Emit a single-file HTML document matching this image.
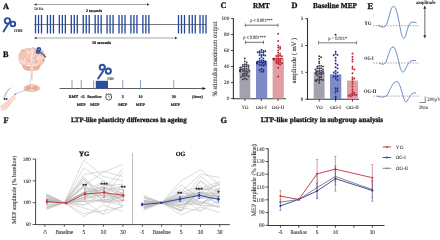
<!DOCTYPE html>
<html><head><meta charset="utf-8"><style>
html,body{margin:0;padding:0;background:#fff;width:440px;height:234px;overflow:hidden}
svg{display:block;will-change:transform}
text{font-family:'Liberation Serif',serif;text-rendering:geometricPrecision}
</style></head><body>
<svg width="440" height="234" viewBox="0 0 440 234">
<rect width="440" height="234" fill="#fff"/>
<text x="3" y="8.5" font-size="8.3" font-weight="bold" text-anchor="start" fill="#111" stroke="#111" stroke-width="0.28" >A</text>
<line x1="35" y1="4.5" x2="148" y2="4.5" stroke="#a5a5a5" stroke-width="1.15" />
<path d="M34,4.5 L36.5,3.3 L36.5,5.7 Z" fill="#333"/>
<path d="M149.5,4.5 L147,3.3 L147,5.7 Z" fill="#333"/>
<text x="34" y="9.8" font-size="3.8" font-weight="bold" text-anchor="start" fill="#333" stroke="#333" stroke-width="0.05" textLength="9.6" lengthAdjust="spacingAndGlyphs" >50 Hz</text>
<text x="86" y="11.8" font-size="3.9" font-weight="bold" text-anchor="start" fill="#222" stroke="#222" stroke-width="0.2" textLength="16" lengthAdjust="spacingAndGlyphs" >2 seconds</text>
<line x1="34" y1="24.5" x2="206.5" y2="24.5" stroke="#555" stroke-width="0.8" />
<rect x="34.85" y="15" width="1.3" height="18.5" fill="#22479c" />
<rect x="37.85" y="15" width="1.3" height="18.5" fill="#22479c" />
<rect x="40.85" y="15" width="1.3" height="18.5" fill="#22479c" />
<rect x="46.78" y="15" width="1.3" height="18.5" fill="#22479c" />
<rect x="49.78" y="15" width="1.3" height="18.5" fill="#22479c" />
<rect x="52.78" y="15" width="1.3" height="18.5" fill="#22479c" />
<rect x="58.71" y="15" width="1.3" height="18.5" fill="#22479c" />
<rect x="61.71" y="15" width="1.3" height="18.5" fill="#22479c" />
<rect x="64.71" y="15" width="1.3" height="18.5" fill="#22479c" />
<rect x="70.63999999999999" y="15" width="1.3" height="18.5" fill="#22479c" />
<rect x="73.63999999999999" y="15" width="1.3" height="18.5" fill="#22479c" />
<rect x="76.63999999999999" y="15" width="1.3" height="18.5" fill="#22479c" />
<rect x="82.57" y="15" width="1.3" height="18.5" fill="#22479c" />
<rect x="85.57" y="15" width="1.3" height="18.5" fill="#22479c" />
<rect x="88.57" y="15" width="1.3" height="18.5" fill="#22479c" />
<rect x="94.5" y="15" width="1.3" height="18.5" fill="#22479c" />
<rect x="97.5" y="15" width="1.3" height="18.5" fill="#22479c" />
<rect x="100.5" y="15" width="1.3" height="18.5" fill="#22479c" />
<rect x="106.42999999999999" y="15" width="1.3" height="18.5" fill="#22479c" />
<rect x="109.42999999999999" y="15" width="1.3" height="18.5" fill="#22479c" />
<rect x="112.42999999999999" y="15" width="1.3" height="18.5" fill="#22479c" />
<rect x="118.35999999999999" y="15" width="1.3" height="18.5" fill="#22479c" />
<rect x="121.35999999999999" y="15" width="1.3" height="18.5" fill="#22479c" />
<rect x="124.35999999999999" y="15" width="1.3" height="18.5" fill="#22479c" />
<rect x="130.29" y="15" width="1.3" height="18.5" fill="#22479c" />
<rect x="133.29" y="15" width="1.3" height="18.5" fill="#22479c" />
<rect x="136.29" y="15" width="1.3" height="18.5" fill="#22479c" />
<rect x="142.22" y="15" width="1.3" height="18.5" fill="#22479c" />
<rect x="145.22" y="15" width="1.3" height="18.5" fill="#22479c" />
<rect x="148.22" y="15" width="1.3" height="18.5" fill="#22479c" />
<rect x="177.85" y="15" width="1.3" height="18.5" fill="#22479c" />
<rect x="180.85" y="15" width="1.3" height="18.5" fill="#22479c" />
<rect x="183.85" y="15" width="1.3" height="18.5" fill="#22479c" />
<rect x="188.6" y="15" width="1.3" height="18.5" fill="#22479c" />
<rect x="191.6" y="15" width="1.3" height="18.5" fill="#22479c" />
<rect x="194.6" y="15" width="1.3" height="18.5" fill="#22479c" />
<rect x="199.35" y="15" width="1.3" height="18.5" fill="#22479c" />
<rect x="202.35" y="15" width="1.3" height="18.5" fill="#22479c" />
<rect x="205.35" y="15" width="1.3" height="18.5" fill="#22479c" />
<line x1="35" y1="38" x2="176" y2="38" stroke="#a5a5a5" stroke-width="1.15" />
<path d="M34,38 L36.5,36.8 L36.5,39.2 Z" fill="#333"/>
<path d="M177.5,38 L175,36.8 L175,39.2 Z" fill="#333"/>
<text x="92" y="44.3" font-size="4.1" font-weight="bold" text-anchor="start" fill="#222" stroke="#222" stroke-width="0.2" textLength="19" lengthAdjust="spacingAndGlyphs" >10 seconds</text>
<circle cx="7.5" cy="20.85" r="2.75" fill="none" stroke="#2b4f9c" stroke-width="1.9" />
<circle cx="12.9" cy="24.0" r="2.35" fill="none" stroke="#2b4f9c" stroke-width="1.9" />
<line x1="8.0" y1="24.2" x2="3.5" y2="31.4" stroke="#2b4f9c" stroke-width="1.9" stroke-linecap="round"/>
<text x="13.9" y="32.4" font-size="3.9" font-weight="bold" text-anchor="start" fill="#333" stroke="#333" stroke-width="0.1" textLength="8.6" lengthAdjust="spacingAndGlyphs" >iTBS</text>
<text x="3" y="57.4" font-size="8.3" font-weight="bold" text-anchor="start" fill="#111" stroke="#111" stroke-width="0.28" >B</text>
<path d="M18.3,57 C18.3,50.8 24,47.7 31.8,47.7 C39.6,47.7 45.4,50.8 45.4,57 C45.4,61.5 43.5,65 40,65.3 C37,65.6 34.8,64.6 31.8,64.7 C29,64.6 26.8,65.6 23.7,65.3 C20.2,65 18.3,61.5 18.3,57 Z" fill="#f3c7b6"/>
<circle cx="29.5" cy="51.7" r="0.76" fill="#f8dccf" stroke="none" stroke-width="0" />
<circle cx="38.0" cy="57.0" r="1.26" fill="#fbe4db" stroke="none" stroke-width="0" />
<circle cx="31.7" cy="55.2" r="1.15" fill="#f8dccf" stroke="none" stroke-width="0" />
<circle cx="39.5" cy="61.7" r="0.71" fill="#f8dccf" stroke="none" stroke-width="0" />
<circle cx="36.2" cy="62.1" r="0.66" fill="#eeb3a0" stroke="none" stroke-width="0" />
<circle cx="37.6" cy="59.3" r="0.93" fill="#fbe4db" stroke="none" stroke-width="0" />
<circle cx="29.5" cy="52.8" r="0.90" fill="#fbe4db" stroke="none" stroke-width="0" />
<circle cx="28.4" cy="63.4" r="0.92" fill="#fbe4db" stroke="none" stroke-width="0" />
<circle cx="42.4" cy="58.2" r="0.85" fill="#fbe4db" stroke="none" stroke-width="0" />
<circle cx="24.6" cy="63.2" r="1.12" fill="#f8dccf" stroke="none" stroke-width="0" />
<circle cx="30.5" cy="63.3" r="1.26" fill="#f8dccf" stroke="none" stroke-width="0" />
<circle cx="36.2" cy="49.1" r="0.72" fill="#fbe4db" stroke="none" stroke-width="0" />
<circle cx="36.8" cy="55.2" r="1.04" fill="#ecae9a" stroke="none" stroke-width="0" />
<circle cx="22.7" cy="58.4" r="0.83" fill="#ecae9a" stroke="none" stroke-width="0" />
<circle cx="32.6" cy="51.7" r="1.05" fill="#fbe4db" stroke="none" stroke-width="0" />
<circle cx="30.5" cy="57.2" r="0.85" fill="#f8dccf" stroke="none" stroke-width="0" />
<circle cx="37.1" cy="63.3" r="1.12" fill="#f8dccf" stroke="none" stroke-width="0" />
<circle cx="37.7" cy="61.0" r="1.03" fill="#f8dccf" stroke="none" stroke-width="0" />
<circle cx="29.6" cy="50.0" r="0.81" fill="#f8dccf" stroke="none" stroke-width="0" />
<circle cx="44.8" cy="55.1" r="1.22" fill="#f8dccf" stroke="none" stroke-width="0" />
<circle cx="27.3" cy="56.5" r="1.19" fill="#f8dccf" stroke="none" stroke-width="0" />
<circle cx="22.0" cy="61.7" r="1.07" fill="#f8dccf" stroke="none" stroke-width="0" />
<circle cx="32.0" cy="48.7" r="0.84" fill="#fbe4db" stroke="none" stroke-width="0" />
<circle cx="28.8" cy="53.9" r="0.87" fill="#ecae9a" stroke="none" stroke-width="0" />
<circle cx="40.2" cy="57.0" r="1.22" fill="#f8dccf" stroke="none" stroke-width="0" />
<circle cx="43.0" cy="60.0" r="1.14" fill="#ecae9a" stroke="none" stroke-width="0" />
<circle cx="25.0" cy="62.2" r="1.06" fill="#f8dccf" stroke="none" stroke-width="0" />
<circle cx="27.1" cy="62.5" r="0.75" fill="#eeb3a0" stroke="none" stroke-width="0" />
<circle cx="40.0" cy="59.3" r="0.87" fill="#f8dccf" stroke="none" stroke-width="0" />
<circle cx="30.4" cy="63.8" r="0.89" fill="#ecae9a" stroke="none" stroke-width="0" />
<circle cx="26.6" cy="59.5" r="1.15" fill="#eeb3a0" stroke="none" stroke-width="0" />
<circle cx="32.9" cy="63.4" r="0.90" fill="#eeb3a0" stroke="none" stroke-width="0" />
<circle cx="26.6" cy="64.0" r="0.80" fill="#f8dccf" stroke="none" stroke-width="0" />
<circle cx="36.6" cy="58.2" r="0.74" fill="#ecae9a" stroke="none" stroke-width="0" />
<circle cx="27.8" cy="51.7" r="1.07" fill="#fbe4db" stroke="none" stroke-width="0" />
<circle cx="37.1" cy="63.9" r="1.22" fill="#f8dccf" stroke="none" stroke-width="0" />
<circle cx="36.4" cy="61.1" r="1.06" fill="#eeb3a0" stroke="none" stroke-width="0" />
<circle cx="38.3" cy="62.4" r="0.89" fill="#f8dccf" stroke="none" stroke-width="0" />
<circle cx="41.4" cy="59.0" r="0.68" fill="#fbe4db" stroke="none" stroke-width="0" />
<circle cx="32.8" cy="48.5" r="1.26" fill="#eeb3a0" stroke="none" stroke-width="0" />
<circle cx="32.3" cy="61.4" r="0.78" fill="#f8dccf" stroke="none" stroke-width="0" />
<circle cx="41.1" cy="55.2" r="0.74" fill="#eeb3a0" stroke="none" stroke-width="0" />
<circle cx="27.0" cy="57.8" r="0.89" fill="#fbe4db" stroke="none" stroke-width="0" />
<circle cx="28.6" cy="57.4" r="0.74" fill="#eeb3a0" stroke="none" stroke-width="0" />
<circle cx="29.3" cy="61.1" r="0.92" fill="#eeb3a0" stroke="none" stroke-width="0" />
<circle cx="22.3" cy="50.6" r="1.21" fill="#ecae9a" stroke="none" stroke-width="0" />
<circle cx="37.1" cy="54.7" r="0.85" fill="#f8dccf" stroke="none" stroke-width="0" />
<circle cx="24.4" cy="55.9" r="0.73" fill="#ecae9a" stroke="none" stroke-width="0" />
<circle cx="33.9" cy="58.5" r="1.07" fill="#ecae9a" stroke="none" stroke-width="0" />
<circle cx="44.5" cy="57.0" r="0.97" fill="#ecae9a" stroke="none" stroke-width="0" />
<circle cx="22.0" cy="61.2" r="0.84" fill="#fbe4db" stroke="none" stroke-width="0" />
<circle cx="38.1" cy="57.6" r="1.04" fill="#eeb3a0" stroke="none" stroke-width="0" />
<circle cx="34.2" cy="55.1" r="0.70" fill="#f8dccf" stroke="none" stroke-width="0" />
<circle cx="42.9" cy="54.9" r="0.84" fill="#fbe4db" stroke="none" stroke-width="0" />
<circle cx="25.0" cy="60.6" r="1.19" fill="#f8dccf" stroke="none" stroke-width="0" />
<circle cx="20.5" cy="60.9" r="1.16" fill="#f8dccf" stroke="none" stroke-width="0" />
<circle cx="22.0" cy="51.2" r="1.06" fill="#eeb3a0" stroke="none" stroke-width="0" />
<circle cx="39.2" cy="51.3" r="1.06" fill="#eeb3a0" stroke="none" stroke-width="0" />
<circle cx="40.2" cy="49.8" r="1.11" fill="#fbe4db" stroke="none" stroke-width="0" />
<circle cx="40.5" cy="50.9" r="0.62" fill="#fbe4db" stroke="none" stroke-width="0" />
<circle cx="32.3" cy="54.6" r="1.21" fill="#eeb3a0" stroke="none" stroke-width="0" />
<circle cx="37.6" cy="58.3" r="0.84" fill="#f8dccf" stroke="none" stroke-width="0" />
<circle cx="20.4" cy="54.0" r="0.73" fill="#ecae9a" stroke="none" stroke-width="0" />
<circle cx="23.7" cy="50.3" r="1.05" fill="#ecae9a" stroke="none" stroke-width="0" />
<circle cx="32.6" cy="63.4" r="0.86" fill="#f8dccf" stroke="none" stroke-width="0" />
<circle cx="36.7" cy="50.1" r="1.00" fill="#f8dccf" stroke="none" stroke-width="0" />
<circle cx="38.1" cy="58.1" r="1.21" fill="#fbe4db" stroke="none" stroke-width="0" />
<circle cx="23.2" cy="62.7" r="1.14" fill="#f8dccf" stroke="none" stroke-width="0" />
<circle cx="28.7" cy="53.5" r="1.01" fill="#fbe4db" stroke="none" stroke-width="0" />
<circle cx="26.4" cy="57.4" r="0.69" fill="#eeb3a0" stroke="none" stroke-width="0" />
<circle cx="30.1" cy="49.7" r="0.71" fill="#eeb3a0" stroke="none" stroke-width="0" />
<circle cx="36.8" cy="62.0" r="1.16" fill="#eeb3a0" stroke="none" stroke-width="0" />
<circle cx="44.2" cy="54.5" r="1.03" fill="#eeb3a0" stroke="none" stroke-width="0" />
<circle cx="33.2" cy="59.6" r="1.13" fill="#fbe4db" stroke="none" stroke-width="0" />
<circle cx="43.4" cy="60.3" r="0.96" fill="#ecae9a" stroke="none" stroke-width="0" />
<circle cx="42.4" cy="52.1" r="1.29" fill="#ecae9a" stroke="none" stroke-width="0" />
<circle cx="24.5" cy="58.9" r="1.19" fill="#f8dccf" stroke="none" stroke-width="0" />
<circle cx="35.4" cy="49.5" r="0.73" fill="#eeb3a0" stroke="none" stroke-width="0" />
<path d="M31.5,48.5 L33.3,48.5 L32.6,64 L30.8,64 Z" fill="#fbe8e0" opacity="0.85"/>
<path d="M22,64 C22,69.8 26.3,71.3 31.6,70.9 C36.9,71.3 40.8,69.8 40.8,64 C37.8,65.8 34.5,66.2 31.6,65.8 C28.3,66.2 25,65.8 22,64 Z" fill="#ebb2a1"/>
<path d="M29.9,63 L33.7,63 L32.7,80 L31.5,80 Z" fill="#f6d8ca"/>
<line x1="33.7" y1="55.6" x2="30.6" y2="68.2" stroke="#c5d4ec" stroke-width="0.9" />
<ellipse cx="31.5" cy="71.5" rx="0.5" ry="1.0" fill="#c2d2ea"/>
<ellipse cx="31.8" cy="75" rx="0.5" ry="1.0" fill="#c2d2ea"/>
<line x1="31.8" y1="74" x2="29.6" y2="86" stroke="#a9bee2" stroke-width="0.6" />
<ellipse cx="31.8" cy="88.2" rx="8.2" ry="3.9" fill="#efb9a2"/>
<ellipse cx="31.8" cy="88.2" rx="6.9" ry="3.0" fill="#f6d3c3"/>
<ellipse cx="28.5" cy="88.2" rx="2.8" ry="2.1" fill="#eba990"/>
<ellipse cx="35.1" cy="88.2" rx="2.8" ry="2.1" fill="#eba990"/>
<circle cx="29.8" cy="88.3" r="0.7" fill="#9fb4d8" stroke="none" stroke-width="0" />
<path d="M26.5,90 Q20,91.5 14.5,94.5" stroke="#86a2d4" stroke-width="0.6" fill="none"/>
<path d="M14,95 L15,93.2 L16.4,94.9 Z" fill="#5f86c8"/>
<path d="M14.5,95 L8,101 C6,103 3,104 0.5,106.5 L1,109 L3,110.5 L5.5,110 C8,106 10.5,104 12,102 L16,97.5 Z" fill="#fae3da"/>
<path d="M14.5,95 L8,101 L0.5,106.5" stroke="#efb49e" stroke-width="0.6" fill="none" stroke-linecap="round"/>
<path d="M16,97.5 L12,102 L5.5,110" stroke="#efb49e" stroke-width="0.6" fill="none" stroke-linecap="round"/>
<path d="M9.5,101.5 L1,109" stroke="#efb49e" stroke-width="0.6" fill="none" stroke-linecap="round"/>
<path d="M10.5,102.5 L3,110.5" stroke="#efb49e" stroke-width="0.6" fill="none" stroke-linecap="round"/>
<path d="M12.5,96.5 L6,103" stroke="#efb49e" stroke-width="0.6" fill="none" stroke-linecap="round"/>
<path d="M11,87.5 Q6,91 4.3,98.5" stroke="#555" stroke-width="0.45" fill="none"/>
<path d="M9,88.5 Q5,92 3,99" stroke="#f0a890" stroke-width="0.4" fill="none"/>
<circle cx="4.6" cy="99" r="0.95" fill="#27336f" stroke="none" stroke-width="0" />
<circle cx="6.6" cy="99" r="0.95" fill="#27336f" stroke="none" stroke-width="0" />
<circle cx="38.9" cy="49.4" r="1.55" fill="none" stroke="#2b4f9c" stroke-width="1.6" />
<circle cx="38.0" cy="51.8" r="1.45" fill="none" stroke="#2b4f9c" stroke-width="1.6" />
<line x1="40.5" y1="52.5" x2="45.6" y2="56.9" stroke="#2b4f9c" stroke-width="1.1" stroke-linecap="round"/>
<line x1="59.5" y1="88.5" x2="204" y2="88.5" stroke="#333" stroke-width="0.8" />
<path d="M206,88.5 L202.5,87 L202.5,90 Z" fill="#222"/>
<rect x="71.55" y="80.2" width="0.9" height="8.3" fill="#7b96c8" />
<rect x="80.75" y="80.2" width="0.9" height="8.3" fill="#7b96c8" />
<rect x="93.25" y="80.2" width="0.9" height="8.3" fill="#7b96c8" />
<rect x="122.35" y="80.2" width="0.9" height="8.3" fill="#7b96c8" />
<rect x="140.05" y="80.2" width="0.9" height="8.3" fill="#7b96c8" />
<rect x="173.35000000000002" y="80.2" width="0.9" height="8.3" fill="#7b96c8" />
<rect x="95.8" y="80.8" width="12.2" height="7.7" fill="#2b4f9c" />
<circle cx="102.25" cy="67.2" r="2.55" fill="none" stroke="#2b4f9c" stroke-width="2.0" />
<circle cx="108.3" cy="71.1" r="2.6" fill="none" stroke="#2b4f9c" stroke-width="2.0" />
<line x1="103.0" y1="71.2" x2="98.2" y2="78.5" stroke="#2b4f9c" stroke-width="2.0" stroke-linecap="round"/>
<text x="107.2" y="79.6" font-size="3.9" font-weight="bold" text-anchor="start" fill="#444" stroke="#444" stroke-width="0.08" textLength="6.6" lengthAdjust="spacingAndGlyphs" >iTBS</text>
<text x="68.8" y="98.3" font-size="4.1" font-weight="bold" text-anchor="start" fill="#222" stroke="#222" stroke-width="0.2" textLength="9.4" lengthAdjust="spacingAndGlyphs" >RMT</text>
<text x="80.6" y="98.3" font-size="4.1" font-weight="bold" text-anchor="start" fill="#222" stroke="#222" stroke-width="0.2" textLength="4" lengthAdjust="spacingAndGlyphs" >-5</text>
<text x="87.2" y="98.3" font-size="4.1" font-weight="bold" text-anchor="start" fill="#333" stroke="#333" stroke-width="0.2" textLength="14.3" lengthAdjust="spacingAndGlyphs" >Baseline</text>
<circle cx="108.7" cy="97" r="3.0" fill="none" stroke="#222" stroke-width="0.75" />
<path d="M108.7,95.2 L108.7,97 L110,97.5" stroke="#333" stroke-width="0.5" fill="none"/>
<path d="M105.8,94.2 L107,93.4 M111.6,94.2 L110.4,93.4" stroke="#333" stroke-width="0.6"/>
<text x="122.8" y="98.3" font-size="4.1" font-weight="bold" text-anchor="middle" fill="#333" stroke="#333" stroke-width="0.2" >5</text>
<text x="140.5" y="98.3" font-size="4.1" font-weight="bold" text-anchor="middle" fill="#333" stroke="#333" stroke-width="0.2" >10</text>
<text x="173.8" y="98.3" font-size="4.1" font-weight="bold" text-anchor="middle" fill="#333" stroke="#333" stroke-width="0.2" >30</text>
<text x="192" y="98.3" font-size="4.1" font-weight="bold" text-anchor="start" fill="#333" stroke="#333" stroke-width="0.2" textLength="10.8" lengthAdjust="spacingAndGlyphs" >(time)</text>
<text x="81.3" y="105.6" font-size="4.1" font-weight="bold" text-anchor="middle" fill="#333" stroke="#333" stroke-width="0.2" textLength="9.3" lengthAdjust="spacingAndGlyphs" >MEP</text>
<text x="95" y="105.6" font-size="4.1" font-weight="bold" text-anchor="middle" fill="#333" stroke="#333" stroke-width="0.2" textLength="9.3" lengthAdjust="spacingAndGlyphs" >MEP</text>
<text x="122.8" y="105.6" font-size="4.1" font-weight="bold" text-anchor="middle" fill="#333" stroke="#333" stroke-width="0.2" textLength="9.3" lengthAdjust="spacingAndGlyphs" >MEP</text>
<text x="140.5" y="105.6" font-size="4.1" font-weight="bold" text-anchor="middle" fill="#333" stroke="#333" stroke-width="0.2" textLength="9.3" lengthAdjust="spacingAndGlyphs" >MEP</text>
<text x="175.4" y="105.6" font-size="4.1" font-weight="bold" text-anchor="middle" fill="#333" stroke="#333" stroke-width="0.2" textLength="9.3" lengthAdjust="spacingAndGlyphs" >MEP</text>
<text x="220.6" y="8.3" font-size="8.3" font-weight="bold" text-anchor="start" fill="#111" stroke="#111" stroke-width="0.28" >C</text>
<text x="253" y="8.3" font-size="7.6" font-weight="bold" text-anchor="start" fill="#111" stroke="#111" stroke-width="0.28" textLength="16.8" lengthAdjust="spacingAndGlyphs" >RMT</text>
<line x1="233.4" y1="18.2" x2="233.4" y2="99.2" stroke="#333" stroke-width="1.1" />
<line x1="233.4" y1="98.7" x2="286" y2="98.7" stroke="#333" stroke-width="1.1" />
<line x1="231" y1="98.5" x2="233.4" y2="98.5" stroke="#222" stroke-width="0.8" />
<text x="229.3" y="100.3" font-size="5.2" font-weight="normal" text-anchor="end" fill="#333" stroke="#333" stroke-width="0.12" >0</text>
<line x1="231" y1="82.5" x2="233.4" y2="82.5" stroke="#222" stroke-width="0.8" />
<text x="229.3" y="84.3" font-size="5.2" font-weight="normal" text-anchor="end" fill="#333" stroke="#333" stroke-width="0.12" >20</text>
<line x1="231" y1="66.5" x2="233.4" y2="66.5" stroke="#222" stroke-width="0.8" />
<text x="229.3" y="68.3" font-size="5.2" font-weight="normal" text-anchor="end" fill="#333" stroke="#333" stroke-width="0.12" >40</text>
<line x1="231" y1="50.5" x2="233.4" y2="50.5" stroke="#222" stroke-width="0.8" />
<text x="229.3" y="52.3" font-size="5.2" font-weight="normal" text-anchor="end" fill="#333" stroke="#333" stroke-width="0.12" >60</text>
<line x1="231" y1="34.5" x2="233.4" y2="34.5" stroke="#222" stroke-width="0.8" />
<text x="229.3" y="36.3" font-size="5.2" font-weight="normal" text-anchor="end" fill="#333" stroke="#333" stroke-width="0.12" >80</text>
<line x1="231" y1="18.5" x2="233.4" y2="18.5" stroke="#222" stroke-width="0.8" />
<text x="229.3" y="20.3" font-size="5.2" font-weight="normal" text-anchor="end" fill="#333" stroke="#333" stroke-width="0.12" >100</text>
<text x="0" y="0" font-size="6.9" font-weight="normal" text-anchor="middle" fill="#333" stroke="#333" stroke-width="0.12" textLength="75" lengthAdjust="spacingAndGlyphs" transform="translate(217,59) rotate(-90)">% stimulus maximum output</text>
<rect x="239.5" y="70.5" width="10.8" height="28" fill="#a2a1b0" />
<rect x="256" y="61" width="11.2" height="37.5" fill="#7f8ac6" />
<rect x="272.6" y="58.6" width="11.2" height="39.9" fill="#df9fa4" />
<circle cx="244.80" cy="58.50" r="0.95" fill="#3a3a4a" stroke="none" stroke-width="0" />
<circle cx="244.80" cy="61.34" r="0.95" fill="#3a3a4a" stroke="none" stroke-width="0" />
<circle cx="246.70" cy="62.50" r="0.95" fill="#3a3a4a" stroke="none" stroke-width="0" />
<circle cx="244.80" cy="64.20" r="0.95" fill="#3a3a4a" stroke="none" stroke-width="0" />
<circle cx="246.70" cy="64.74" r="0.95" fill="#3a3a4a" stroke="none" stroke-width="0" />
<circle cx="242.90" cy="64.85" r="0.95" fill="#3a3a4a" stroke="none" stroke-width="0" />
<circle cx="248.60" cy="65.33" r="0.95" fill="#3a3a4a" stroke="none" stroke-width="0" />
<circle cx="244.80" cy="66.19" r="0.95" fill="#3a3a4a" stroke="none" stroke-width="0" />
<circle cx="246.70" cy="66.40" r="0.95" fill="#3a3a4a" stroke="none" stroke-width="0" />
<circle cx="242.90" cy="66.49" r="0.95" fill="#3a3a4a" stroke="none" stroke-width="0" />
<circle cx="248.60" cy="67.11" r="0.95" fill="#3a3a4a" stroke="none" stroke-width="0" />
<circle cx="241.00" cy="67.38" r="0.95" fill="#3a3a4a" stroke="none" stroke-width="0" />
<circle cx="240.20" cy="67.68" r="0.95" fill="#3a3a4a" stroke="none" stroke-width="0" />
<circle cx="244.80" cy="68.26" r="0.95" fill="#3a3a4a" stroke="none" stroke-width="0" />
<circle cx="246.70" cy="68.65" r="0.95" fill="#3a3a4a" stroke="none" stroke-width="0" />
<circle cx="242.90" cy="69.01" r="0.95" fill="#3a3a4a" stroke="none" stroke-width="0" />
<circle cx="248.60" cy="69.28" r="0.95" fill="#3a3a4a" stroke="none" stroke-width="0" />
<circle cx="241.00" cy="69.40" r="0.95" fill="#3a3a4a" stroke="none" stroke-width="0" />
<circle cx="240.20" cy="69.84" r="0.95" fill="#3a3a4a" stroke="none" stroke-width="0" />
<circle cx="244.80" cy="69.89" r="0.95" fill="#3a3a4a" stroke="none" stroke-width="0" />
<circle cx="240.20" cy="70.05" r="0.95" fill="#3a3a4a" stroke="none" stroke-width="0" />
<circle cx="246.70" cy="70.46" r="0.95" fill="#3a3a4a" stroke="none" stroke-width="0" />
<circle cx="242.90" cy="70.75" r="0.95" fill="#3a3a4a" stroke="none" stroke-width="0" />
<circle cx="249.40" cy="70.84" r="0.95" fill="#3a3a4a" stroke="none" stroke-width="0" />
<circle cx="240.20" cy="70.85" r="0.95" fill="#3a3a4a" stroke="none" stroke-width="0" />
<circle cx="240.20" cy="71.07" r="0.95" fill="#3a3a4a" stroke="none" stroke-width="0" />
<circle cx="240.20" cy="71.11" r="0.95" fill="#3a3a4a" stroke="none" stroke-width="0" />
<circle cx="240.20" cy="71.31" r="0.95" fill="#3a3a4a" stroke="none" stroke-width="0" />
<circle cx="240.20" cy="71.46" r="0.95" fill="#3a3a4a" stroke="none" stroke-width="0" />
<circle cx="244.80" cy="71.63" r="0.95" fill="#3a3a4a" stroke="none" stroke-width="0" />
<circle cx="247.70" cy="71.92" r="0.95" fill="#3a3a4a" stroke="none" stroke-width="0" />
<circle cx="244.80" cy="73.42" r="0.95" fill="#3a3a4a" stroke="none" stroke-width="0" />
<circle cx="246.70" cy="73.80" r="0.95" fill="#3a3a4a" stroke="none" stroke-width="0" />
<circle cx="242.90" cy="73.98" r="0.95" fill="#3a3a4a" stroke="none" stroke-width="0" />
<circle cx="244.80" cy="75.56" r="0.95" fill="#3a3a4a" stroke="none" stroke-width="0" />
<circle cx="246.70" cy="75.58" r="0.95" fill="#3a3a4a" stroke="none" stroke-width="0" />
<circle cx="242.90" cy="75.95" r="0.95" fill="#3a3a4a" stroke="none" stroke-width="0" />
<circle cx="248.60" cy="76.34" r="0.95" fill="#3a3a4a" stroke="none" stroke-width="0" />
<circle cx="241.00" cy="76.86" r="0.95" fill="#3a3a4a" stroke="none" stroke-width="0" />
<circle cx="244.80" cy="78.57" r="0.95" fill="#3a3a4a" stroke="none" stroke-width="0" />
<circle cx="246.70" cy="79.37" r="0.95" fill="#3a3a4a" stroke="none" stroke-width="0" />
<circle cx="242.90" cy="79.39" r="0.95" fill="#3a3a4a" stroke="none" stroke-width="0" />
<circle cx="261.50" cy="49.70" r="0.95" fill="#1b2a8a" stroke="none" stroke-width="0" />
<circle cx="263.40" cy="50.97" r="0.95" fill="#1b2a8a" stroke="none" stroke-width="0" />
<circle cx="259.60" cy="51.27" r="0.95" fill="#1b2a8a" stroke="none" stroke-width="0" />
<circle cx="265.30" cy="51.30" r="0.95" fill="#1b2a8a" stroke="none" stroke-width="0" />
<circle cx="261.50" cy="52.15" r="0.95" fill="#1b2a8a" stroke="none" stroke-width="0" />
<circle cx="257.70" cy="52.20" r="0.95" fill="#1b2a8a" stroke="none" stroke-width="0" />
<circle cx="263.40" cy="52.78" r="0.95" fill="#1b2a8a" stroke="none" stroke-width="0" />
<circle cx="259.60" cy="52.90" r="0.95" fill="#1b2a8a" stroke="none" stroke-width="0" />
<circle cx="261.50" cy="54.96" r="0.95" fill="#1b2a8a" stroke="none" stroke-width="0" />
<circle cx="263.40" cy="54.97" r="0.95" fill="#1b2a8a" stroke="none" stroke-width="0" />
<circle cx="259.60" cy="55.08" r="0.95" fill="#1b2a8a" stroke="none" stroke-width="0" />
<circle cx="265.30" cy="55.55" r="0.95" fill="#1b2a8a" stroke="none" stroke-width="0" />
<circle cx="261.50" cy="57.03" r="0.95" fill="#1b2a8a" stroke="none" stroke-width="0" />
<circle cx="263.40" cy="58.40" r="0.95" fill="#1b2a8a" stroke="none" stroke-width="0" />
<circle cx="259.60" cy="58.64" r="0.95" fill="#1b2a8a" stroke="none" stroke-width="0" />
<circle cx="261.50" cy="60.32" r="0.95" fill="#1b2a8a" stroke="none" stroke-width="0" />
<circle cx="263.40" cy="60.48" r="0.95" fill="#1b2a8a" stroke="none" stroke-width="0" />
<circle cx="259.60" cy="60.85" r="0.95" fill="#1b2a8a" stroke="none" stroke-width="0" />
<circle cx="265.30" cy="61.21" r="0.95" fill="#1b2a8a" stroke="none" stroke-width="0" />
<circle cx="257.70" cy="61.46" r="0.95" fill="#1b2a8a" stroke="none" stroke-width="0" />
<circle cx="261.50" cy="62.34" r="0.95" fill="#1b2a8a" stroke="none" stroke-width="0" />
<circle cx="263.40" cy="62.42" r="0.95" fill="#1b2a8a" stroke="none" stroke-width="0" />
<circle cx="259.60" cy="62.62" r="0.95" fill="#1b2a8a" stroke="none" stroke-width="0" />
<circle cx="265.30" cy="62.94" r="0.95" fill="#1b2a8a" stroke="none" stroke-width="0" />
<circle cx="256.90" cy="63.00" r="0.95" fill="#1b2a8a" stroke="none" stroke-width="0" />
<circle cx="256.90" cy="63.32" r="0.95" fill="#1b2a8a" stroke="none" stroke-width="0" />
<circle cx="256.90" cy="63.61" r="0.95" fill="#1b2a8a" stroke="none" stroke-width="0" />
<circle cx="262.50" cy="63.87" r="0.95" fill="#1b2a8a" stroke="none" stroke-width="0" />
<circle cx="259.60" cy="64.68" r="0.95" fill="#1b2a8a" stroke="none" stroke-width="0" />
<circle cx="265.30" cy="64.83" r="0.95" fill="#1b2a8a" stroke="none" stroke-width="0" />
<circle cx="261.50" cy="65.35" r="0.95" fill="#1b2a8a" stroke="none" stroke-width="0" />
<circle cx="263.40" cy="65.56" r="0.95" fill="#1b2a8a" stroke="none" stroke-width="0" />
<circle cx="261.50" cy="69.07" r="0.95" fill="#1b2a8a" stroke="none" stroke-width="0" />
<circle cx="263.40" cy="69.63" r="0.95" fill="#1b2a8a" stroke="none" stroke-width="0" />
<circle cx="259.60" cy="70.15" r="0.95" fill="#1b2a8a" stroke="none" stroke-width="0" />
<circle cx="261.50" cy="71.65" r="0.95" fill="#1b2a8a" stroke="none" stroke-width="0" />
<circle cx="263.40" cy="71.66" r="0.95" fill="#1b2a8a" stroke="none" stroke-width="0" />
<circle cx="278.20" cy="33.70" r="0.95" fill="#b3202e" stroke="none" stroke-width="0" />
<circle cx="278.20" cy="40.90" r="0.95" fill="#b3202e" stroke="none" stroke-width="0" />
<circle cx="278.20" cy="45.62" r="0.95" fill="#b3202e" stroke="none" stroke-width="0" />
<circle cx="280.10" cy="47.00" r="0.95" fill="#b3202e" stroke="none" stroke-width="0" />
<circle cx="278.20" cy="47.61" r="0.95" fill="#b3202e" stroke="none" stroke-width="0" />
<circle cx="280.10" cy="48.90" r="0.95" fill="#b3202e" stroke="none" stroke-width="0" />
<circle cx="278.20" cy="50.50" r="0.95" fill="#b3202e" stroke="none" stroke-width="0" />
<circle cx="278.20" cy="52.66" r="0.95" fill="#b3202e" stroke="none" stroke-width="0" />
<circle cx="280.10" cy="53.67" r="0.95" fill="#b3202e" stroke="none" stroke-width="0" />
<circle cx="278.20" cy="54.94" r="0.95" fill="#b3202e" stroke="none" stroke-width="0" />
<circle cx="280.10" cy="55.76" r="0.95" fill="#b3202e" stroke="none" stroke-width="0" />
<circle cx="276.30" cy="55.97" r="0.95" fill="#b3202e" stroke="none" stroke-width="0" />
<circle cx="282.00" cy="56.15" r="0.95" fill="#b3202e" stroke="none" stroke-width="0" />
<circle cx="278.20" cy="56.61" r="0.95" fill="#b3202e" stroke="none" stroke-width="0" />
<circle cx="278.20" cy="58.34" r="0.95" fill="#b3202e" stroke="none" stroke-width="0" />
<circle cx="280.10" cy="58.46" r="0.95" fill="#b3202e" stroke="none" stroke-width="0" />
<circle cx="276.30" cy="58.47" r="0.95" fill="#b3202e" stroke="none" stroke-width="0" />
<circle cx="282.00" cy="58.62" r="0.95" fill="#b3202e" stroke="none" stroke-width="0" />
<circle cx="274.40" cy="58.74" r="0.95" fill="#b3202e" stroke="none" stroke-width="0" />
<circle cx="273.60" cy="58.76" r="0.95" fill="#b3202e" stroke="none" stroke-width="0" />
<circle cx="273.60" cy="58.82" r="0.95" fill="#b3202e" stroke="none" stroke-width="0" />
<circle cx="273.60" cy="58.89" r="0.95" fill="#b3202e" stroke="none" stroke-width="0" />
<circle cx="273.60" cy="59.64" r="0.95" fill="#b3202e" stroke="none" stroke-width="0" />
<circle cx="278.20" cy="60.03" r="0.95" fill="#b3202e" stroke="none" stroke-width="0" />
<circle cx="280.10" cy="60.33" r="0.95" fill="#b3202e" stroke="none" stroke-width="0" />
<circle cx="276.30" cy="60.76" r="0.95" fill="#b3202e" stroke="none" stroke-width="0" />
<circle cx="278.20" cy="62.03" r="0.95" fill="#b3202e" stroke="none" stroke-width="0" />
<circle cx="280.10" cy="62.27" r="0.95" fill="#b3202e" stroke="none" stroke-width="0" />
<circle cx="276.30" cy="62.82" r="0.95" fill="#b3202e" stroke="none" stroke-width="0" />
<circle cx="282.00" cy="63.20" r="0.95" fill="#b3202e" stroke="none" stroke-width="0" />
<circle cx="278.20" cy="63.81" r="0.95" fill="#b3202e" stroke="none" stroke-width="0" />
<circle cx="280.10" cy="64.44" r="0.95" fill="#b3202e" stroke="none" stroke-width="0" />
<circle cx="278.20" cy="67.64" r="0.95" fill="#b3202e" stroke="none" stroke-width="0" />
<circle cx="278.20" cy="76.45" r="0.95" fill="#b3202e" stroke="none" stroke-width="0" />
<line x1="244.9" y1="98.6" x2="244.9" y2="101" stroke="#222" stroke-width="0.8" />
<text x="244.9" y="108.6" font-size="4.9" font-weight="normal" text-anchor="middle" fill="#333" stroke="#333" stroke-width="0.12" textLength="7" lengthAdjust="spacingAndGlyphs" >YG</text>
<line x1="261.3" y1="98.6" x2="261.3" y2="101" stroke="#222" stroke-width="0.8" />
<text x="261.3" y="108.6" font-size="4.9" font-weight="normal" text-anchor="middle" fill="#333" stroke="#333" stroke-width="0.12" textLength="10.8" lengthAdjust="spacingAndGlyphs" >OG-I</text>
<line x1="278" y1="98.6" x2="278" y2="101" stroke="#222" stroke-width="0.8" />
<text x="278" y="108.6" font-size="4.9" font-weight="normal" text-anchor="middle" fill="#333" stroke="#333" stroke-width="0.12" textLength="12.3" lengthAdjust="spacingAndGlyphs" >OG-II</text>
<line x1="245.3" y1="25.2" x2="278" y2="25.2" stroke="#555" stroke-width="0.85" />
<line x1="245.3" y1="23.6" x2="245.3" y2="26.8" stroke="#555" stroke-width="0.8" />
<line x1="278" y1="23.6" x2="278" y2="26.8" stroke="#555" stroke-width="0.8" />
<text x="250.2" y="22.3" font-size="5.0" font-weight="normal" text-anchor="start" fill="#444" stroke="#444" stroke-width="0.1" textLength="22.4" lengthAdjust="spacingAndGlyphs" >p &lt; 0.001***</text>
<line x1="245.3" y1="42.3" x2="263.5" y2="42.3" stroke="#555" stroke-width="0.85" />
<line x1="245.3" y1="40.7" x2="245.3" y2="43.9" stroke="#555" stroke-width="0.8" />
<line x1="263.5" y1="40.7" x2="263.5" y2="43.9" stroke="#555" stroke-width="0.8" />
<text x="243.2" y="39.1" font-size="5.0" font-weight="normal" text-anchor="start" fill="#444" stroke="#444" stroke-width="0.1" textLength="22.6" lengthAdjust="spacingAndGlyphs" >p &lt; 0.001***</text>
<text x="291.6" y="8.3" font-size="8.3" font-weight="bold" text-anchor="start" fill="#111" stroke="#111" stroke-width="0.28" >D</text>
<text x="313" y="8.3" font-size="7.5" font-weight="bold" text-anchor="start" fill="#111" stroke="#111" stroke-width="0.28" textLength="44" lengthAdjust="spacingAndGlyphs" >Baseline MEP</text>
<line x1="307.5" y1="18.2" x2="307.5" y2="99.7" stroke="#333" stroke-width="1.1" />
<line x1="307.5" y1="99.2" x2="359" y2="99.2" stroke="#333" stroke-width="1.1" />
<line x1="305.2" y1="99.2" x2="307.5" y2="99.2" stroke="#222" stroke-width="0.8" />
<text x="303.3" y="101.0" font-size="5.0" font-weight="normal" text-anchor="end" fill="#333" stroke="#333" stroke-width="0.12" >0</text>
<line x1="305.2" y1="72.35" x2="307.5" y2="72.35" stroke="#222" stroke-width="0.8" />
<text x="303.3" y="74.14999999999999" font-size="5.0" font-weight="normal" text-anchor="end" fill="#333" stroke="#333" stroke-width="0.12" >1</text>
<line x1="305.2" y1="45.5" x2="307.5" y2="45.5" stroke="#222" stroke-width="0.8" />
<text x="303.3" y="47.3" font-size="5.0" font-weight="normal" text-anchor="end" fill="#333" stroke="#333" stroke-width="0.12" >2</text>
<line x1="305.2" y1="18.64999999999999" x2="307.5" y2="18.64999999999999" stroke="#222" stroke-width="0.8" />
<text x="303.3" y="20.449999999999992" font-size="5.0" font-weight="normal" text-anchor="end" fill="#333" stroke="#333" stroke-width="0.12" >3</text>
<text x="0" y="0" font-size="6.6" font-weight="normal" text-anchor="middle" fill="#333" stroke="#333" stroke-width="0.12" textLength="45.7" lengthAdjust="spacingAndGlyphs" transform="translate(296.4,60.6) rotate(-90)">amplitude  ( mV )</text>
<rect x="313.7" y="72" width="10.9" height="27.2" fill="#a2a1b0" />
<rect x="330" y="74.3" width="11.3" height="24.9" fill="#7f8ac6" />
<rect x="347" y="80.5" width="11" height="18.7" fill="#df9fa4" />
<circle cx="319.20" cy="56.24" r="0.95" fill="#3a3a4a" stroke="none" stroke-width="0" />
<circle cx="321.10" cy="57.17" r="0.95" fill="#3a3a4a" stroke="none" stroke-width="0" />
<circle cx="319.20" cy="58.92" r="0.95" fill="#3a3a4a" stroke="none" stroke-width="0" />
<circle cx="319.20" cy="61.61" r="0.95" fill="#3a3a4a" stroke="none" stroke-width="0" />
<circle cx="319.20" cy="63.29" r="0.95" fill="#3a3a4a" stroke="none" stroke-width="0" />
<circle cx="319.20" cy="65.86" r="0.95" fill="#3a3a4a" stroke="none" stroke-width="0" />
<circle cx="321.10" cy="65.87" r="0.95" fill="#3a3a4a" stroke="none" stroke-width="0" />
<circle cx="317.30" cy="66.47" r="0.95" fill="#3a3a4a" stroke="none" stroke-width="0" />
<circle cx="323.00" cy="66.55" r="0.95" fill="#3a3a4a" stroke="none" stroke-width="0" />
<circle cx="319.20" cy="68.18" r="0.95" fill="#3a3a4a" stroke="none" stroke-width="0" />
<circle cx="321.10" cy="68.20" r="0.95" fill="#3a3a4a" stroke="none" stroke-width="0" />
<circle cx="317.30" cy="68.26" r="0.95" fill="#3a3a4a" stroke="none" stroke-width="0" />
<circle cx="323.00" cy="69.53" r="0.95" fill="#3a3a4a" stroke="none" stroke-width="0" />
<circle cx="315.40" cy="69.55" r="0.95" fill="#3a3a4a" stroke="none" stroke-width="0" />
<circle cx="319.20" cy="70.12" r="0.95" fill="#3a3a4a" stroke="none" stroke-width="0" />
<circle cx="321.10" cy="70.74" r="0.95" fill="#3a3a4a" stroke="none" stroke-width="0" />
<circle cx="317.30" cy="71.09" r="0.95" fill="#3a3a4a" stroke="none" stroke-width="0" />
<circle cx="316.30" cy="71.11" r="0.95" fill="#3a3a4a" stroke="none" stroke-width="0" />
<circle cx="323.00" cy="71.49" r="0.95" fill="#3a3a4a" stroke="none" stroke-width="0" />
<circle cx="319.20" cy="71.79" r="0.95" fill="#3a3a4a" stroke="none" stroke-width="0" />
<circle cx="316.30" cy="72.34" r="0.95" fill="#3a3a4a" stroke="none" stroke-width="0" />
<circle cx="321.10" cy="72.72" r="0.95" fill="#3a3a4a" stroke="none" stroke-width="0" />
<circle cx="316.30" cy="72.74" r="0.95" fill="#3a3a4a" stroke="none" stroke-width="0" />
<circle cx="316.30" cy="72.95" r="0.95" fill="#3a3a4a" stroke="none" stroke-width="0" />
<circle cx="323.00" cy="73.36" r="0.95" fill="#3a3a4a" stroke="none" stroke-width="0" />
<circle cx="319.20" cy="73.97" r="0.95" fill="#3a3a4a" stroke="none" stroke-width="0" />
<circle cx="316.30" cy="74.06" r="0.95" fill="#3a3a4a" stroke="none" stroke-width="0" />
<circle cx="321.10" cy="74.39" r="0.95" fill="#3a3a4a" stroke="none" stroke-width="0" />
<circle cx="317.30" cy="75.38" r="0.95" fill="#3a3a4a" stroke="none" stroke-width="0" />
<circle cx="319.20" cy="76.95" r="0.95" fill="#3a3a4a" stroke="none" stroke-width="0" />
<circle cx="321.10" cy="76.99" r="0.95" fill="#3a3a4a" stroke="none" stroke-width="0" />
<circle cx="319.20" cy="79.07" r="0.95" fill="#3a3a4a" stroke="none" stroke-width="0" />
<circle cx="321.10" cy="79.53" r="0.95" fill="#3a3a4a" stroke="none" stroke-width="0" />
<circle cx="317.30" cy="79.58" r="0.95" fill="#3a3a4a" stroke="none" stroke-width="0" />
<circle cx="323.00" cy="79.99" r="0.95" fill="#3a3a4a" stroke="none" stroke-width="0" />
<circle cx="315.40" cy="80.20" r="0.95" fill="#3a3a4a" stroke="none" stroke-width="0" />
<circle cx="319.20" cy="80.74" r="0.95" fill="#3a3a4a" stroke="none" stroke-width="0" />
<circle cx="316.30" cy="81.06" r="0.95" fill="#3a3a4a" stroke="none" stroke-width="0" />
<circle cx="319.20" cy="82.92" r="0.95" fill="#3a3a4a" stroke="none" stroke-width="0" />
<circle cx="335.60" cy="34.76" r="0.95" fill="#1b2a8a" stroke="none" stroke-width="0" />
<circle cx="335.60" cy="51.68" r="0.95" fill="#1b2a8a" stroke="none" stroke-width="0" />
<circle cx="335.60" cy="53.92" r="0.95" fill="#1b2a8a" stroke="none" stroke-width="0" />
<circle cx="337.50" cy="54.90" r="0.95" fill="#1b2a8a" stroke="none" stroke-width="0" />
<circle cx="333.70" cy="55.24" r="0.95" fill="#1b2a8a" stroke="none" stroke-width="0" />
<circle cx="335.60" cy="57.72" r="0.95" fill="#1b2a8a" stroke="none" stroke-width="0" />
<circle cx="335.60" cy="60.52" r="0.95" fill="#1b2a8a" stroke="none" stroke-width="0" />
<circle cx="335.60" cy="63.52" r="0.95" fill="#1b2a8a" stroke="none" stroke-width="0" />
<circle cx="337.50" cy="64.88" r="0.95" fill="#1b2a8a" stroke="none" stroke-width="0" />
<circle cx="335.60" cy="67.28" r="0.95" fill="#1b2a8a" stroke="none" stroke-width="0" />
<circle cx="337.50" cy="68.41" r="0.95" fill="#1b2a8a" stroke="none" stroke-width="0" />
<circle cx="335.60" cy="70.98" r="0.95" fill="#1b2a8a" stroke="none" stroke-width="0" />
<circle cx="337.50" cy="72.41" r="0.95" fill="#1b2a8a" stroke="none" stroke-width="0" />
<circle cx="333.70" cy="72.46" r="0.95" fill="#1b2a8a" stroke="none" stroke-width="0" />
<circle cx="335.60" cy="73.45" r="0.95" fill="#1b2a8a" stroke="none" stroke-width="0" />
<circle cx="335.60" cy="76.37" r="0.95" fill="#1b2a8a" stroke="none" stroke-width="0" />
<circle cx="337.50" cy="76.39" r="0.95" fill="#1b2a8a" stroke="none" stroke-width="0" />
<circle cx="333.70" cy="76.55" r="0.95" fill="#1b2a8a" stroke="none" stroke-width="0" />
<circle cx="335.60" cy="78.50" r="0.95" fill="#1b2a8a" stroke="none" stroke-width="0" />
<circle cx="337.50" cy="80.04" r="0.95" fill="#1b2a8a" stroke="none" stroke-width="0" />
<circle cx="335.60" cy="88.13" r="0.95" fill="#1b2a8a" stroke="none" stroke-width="0" />
<circle cx="337.50" cy="88.49" r="0.95" fill="#1b2a8a" stroke="none" stroke-width="0" />
<circle cx="335.60" cy="90.37" r="0.95" fill="#1b2a8a" stroke="none" stroke-width="0" />
<circle cx="337.50" cy="91.06" r="0.95" fill="#1b2a8a" stroke="none" stroke-width="0" />
<circle cx="335.60" cy="92.62" r="0.95" fill="#1b2a8a" stroke="none" stroke-width="0" />
<circle cx="335.60" cy="96.82" r="0.95" fill="#1b2a8a" stroke="none" stroke-width="0" />
<circle cx="335.60" cy="98.65" r="0.95" fill="#1b2a8a" stroke="none" stroke-width="0" />
<circle cx="352.50" cy="53.55" r="0.95" fill="#b3202e" stroke="none" stroke-width="0" />
<circle cx="352.50" cy="56.78" r="0.95" fill="#b3202e" stroke="none" stroke-width="0" />
<circle cx="352.50" cy="59.32" r="0.95" fill="#b3202e" stroke="none" stroke-width="0" />
<circle cx="352.50" cy="61.56" r="0.95" fill="#b3202e" stroke="none" stroke-width="0" />
<circle cx="352.50" cy="66.70" r="0.95" fill="#b3202e" stroke="none" stroke-width="0" />
<circle cx="352.50" cy="68.73" r="0.95" fill="#b3202e" stroke="none" stroke-width="0" />
<circle cx="354.40" cy="69.49" r="0.95" fill="#b3202e" stroke="none" stroke-width="0" />
<circle cx="352.50" cy="73.27" r="0.95" fill="#b3202e" stroke="none" stroke-width="0" />
<circle cx="352.50" cy="77.53" r="0.95" fill="#b3202e" stroke="none" stroke-width="0" />
<circle cx="354.40" cy="78.52" r="0.95" fill="#b3202e" stroke="none" stroke-width="0" />
<circle cx="352.50" cy="79.19" r="0.95" fill="#b3202e" stroke="none" stroke-width="0" />
<circle cx="352.50" cy="81.44" r="0.95" fill="#b3202e" stroke="none" stroke-width="0" />
<circle cx="352.50" cy="83.59" r="0.95" fill="#b3202e" stroke="none" stroke-width="0" />
<circle cx="352.50" cy="86.44" r="0.95" fill="#b3202e" stroke="none" stroke-width="0" />
<circle cx="352.50" cy="89.37" r="0.95" fill="#b3202e" stroke="none" stroke-width="0" />
<circle cx="352.50" cy="91.57" r="0.95" fill="#b3202e" stroke="none" stroke-width="0" />
<circle cx="354.40" cy="92.99" r="0.95" fill="#b3202e" stroke="none" stroke-width="0" />
<circle cx="352.50" cy="93.33" r="0.95" fill="#b3202e" stroke="none" stroke-width="0" />
<circle cx="350.60" cy="94.52" r="0.95" fill="#b3202e" stroke="none" stroke-width="0" />
<circle cx="354.40" cy="94.85" r="0.95" fill="#b3202e" stroke="none" stroke-width="0" />
<circle cx="356.30" cy="94.89" r="0.95" fill="#b3202e" stroke="none" stroke-width="0" />
<circle cx="352.50" cy="95.28" r="0.95" fill="#b3202e" stroke="none" stroke-width="0" />
<circle cx="348.70" cy="95.63" r="0.95" fill="#b3202e" stroke="none" stroke-width="0" />
<circle cx="350.60" cy="96.33" r="0.95" fill="#b3202e" stroke="none" stroke-width="0" />
<line x1="319.2" y1="99.2" x2="319.2" y2="101.6" stroke="#222" stroke-width="0.8" />
<text x="319.2" y="109" font-size="4.9" font-weight="normal" text-anchor="middle" fill="#333" stroke="#333" stroke-width="0.12" textLength="7" lengthAdjust="spacingAndGlyphs" >YG</text>
<line x1="335.6" y1="99.2" x2="335.6" y2="101.6" stroke="#222" stroke-width="0.8" />
<text x="335.6" y="109" font-size="4.9" font-weight="normal" text-anchor="middle" fill="#333" stroke="#333" stroke-width="0.12" textLength="10.8" lengthAdjust="spacingAndGlyphs" >OG-I</text>
<line x1="352.5" y1="99.2" x2="352.5" y2="101.6" stroke="#222" stroke-width="0.8" />
<text x="352.5" y="109" font-size="4.9" font-weight="normal" text-anchor="middle" fill="#333" stroke="#333" stroke-width="0.12" textLength="12.3" lengthAdjust="spacingAndGlyphs" >OG-II</text>
<line x1="318.5" y1="42.8" x2="356.6" y2="42.8" stroke="#666" stroke-width="0.85" />
<line x1="318.5" y1="41.2" x2="318.5" y2="44.4" stroke="#666" stroke-width="0.8" />
<line x1="356.6" y1="41.2" x2="356.6" y2="44.4" stroke="#666" stroke-width="0.8" />
<text x="328.2" y="39.6" font-size="5.0" font-weight="normal" text-anchor="start" fill="#444" stroke="#444" stroke-width="0.1" textLength="19" lengthAdjust="spacingAndGlyphs" >p = 0.011*</text>
<text x="367.4" y="8.5" font-size="8.8" font-weight="bold" text-anchor="start" fill="#111" stroke="#111" stroke-width="0.28" >E</text>
<text x="364.5" y="25.0" font-size="5.3" font-weight="bold" text-anchor="start" fill="#222" stroke="#222" stroke-width="0.05" textLength="6.8" lengthAdjust="spacingAndGlyphs" >YG</text>
<text x="364.3" y="60.4" font-size="5.3" font-weight="bold" text-anchor="start" fill="#222" stroke="#222" stroke-width="0.05" textLength="9.2" lengthAdjust="spacingAndGlyphs" >OG-I</text>
<text x="364.1" y="93.1" font-size="5.3" font-weight="bold" text-anchor="start" fill="#222" stroke="#222" stroke-width="0.05" textLength="12.1" lengthAdjust="spacingAndGlyphs" >OG-II</text>
<line x1="373.4" y1="25.7" x2="419" y2="25.7" stroke="#777" stroke-width="0.75" stroke-dasharray="1.3,1.5"/>
<line x1="373.4" y1="63" x2="419" y2="63" stroke="#777" stroke-width="0.75" stroke-dasharray="1.3,1.5"/>
<line x1="373.4" y1="96.1" x2="419" y2="96.1" stroke="#777" stroke-width="0.75" stroke-dasharray="1.3,1.5"/>
<path d="M378,25.3 C381,26.5 383,28.5 386,25.5 C389,20 390.5,6.3 393.5,6.3 C397,6.3 399,23 401,32 C402,37 403,38.4 404,38.4 C406,38.4 407,27 410,23.3 C412,21.5 414,22 416.5,22.8" fill="none" stroke="#5a80c0" stroke-width="0.9"/>
<path d="M379,63 C381,64 383,65 385.5,63 C388,58 390,46.8 393,46.8 C396,46.8 398,60 400,67 C401,71 402,72 403,72 C405,72 407,64 410,61.5 C412,60.3 414,60.5 416,60.5" fill="none" stroke="#5a80c0" stroke-width="0.9"/>
<path d="M377,96 C380,97 383,98 387,95.5 C390,90 393,81.4 396.7,81.4 C400,81.4 402,94 404,99 C405,101.5 405.5,101.9 406,101.9 C407.5,101.9 409,96 412,93.8 C413.5,92.8 415,92.8 416,92.8" fill="none" stroke="#5a80c0" stroke-width="0.9"/>
<line x1="424.8" y1="7.5" x2="424.8" y2="36.5" stroke="#9a9a9a" stroke-width="1.5" />
<path d="M424.8,5.6 L423.3,8.8 L426.3,8.8 Z" fill="#333"/>
<path d="M424.8,38.4 L423.3,35.2 L426.3,35.2 Z" fill="#333"/>
<text x="416" y="4.0" font-size="4.9" font-weight="bold" text-anchor="start" fill="#222" stroke="#222" stroke-width="0.05" textLength="19.5" lengthAdjust="spacingAndGlyphs" >amplitude</text>
<line x1="425.2" y1="96.4" x2="425.2" y2="102.5" stroke="#333" stroke-width="0.6" />
<line x1="419.4" y1="102.5" x2="425.5" y2="102.5" stroke="#333" stroke-width="0.6" />
<text x="427.2" y="101.4" font-size="5.3" font-weight="normal" text-anchor="start" fill="#333" stroke="#333" stroke-width="0.06" textLength="13.5" lengthAdjust="spacingAndGlyphs" >200μV</text>
<text x="418.9" y="108.8" font-size="5.0" font-weight="normal" text-anchor="start" fill="#333" stroke="#333" stroke-width="0.06" textLength="9.3" lengthAdjust="spacingAndGlyphs" >20ms</text>
<text x="3.6" y="122.8" font-size="8.3" font-weight="bold" text-anchor="start" fill="#111" stroke="#111" stroke-width="0.28" >F</text>
<text x="70.9" y="121.9" font-size="6.9" font-weight="bold" text-anchor="start" fill="#111" stroke="#111" stroke-width="0.28" textLength="115.7" lengthAdjust="spacingAndGlyphs" >LTP-like plasticity differences in ageing</text>
<polyline points="46.30,199.64 64.30,202.70 83.80,201.44 103.40,200.70 122.90,193.21" fill="none" stroke="#b8b8b8" stroke-width="0.5" stroke-linejoin="round" />
<polyline points="46.30,195.90 64.30,202.70 83.80,204.62 103.40,199.74 122.90,196.34" fill="none" stroke="#b8b8b8" stroke-width="0.5" stroke-linejoin="round" />
<polyline points="46.30,198.92 64.30,202.70 83.80,197.69 103.40,195.50 122.90,194.61" fill="none" stroke="#b8b8b8" stroke-width="0.5" stroke-linejoin="round" />
<polyline points="46.30,205.45 64.30,202.70 83.80,192.30 103.40,181.12 122.90,196.36" fill="none" stroke="#b8b8b8" stroke-width="0.5" stroke-linejoin="round" />
<polyline points="46.30,198.86 64.30,202.70 83.80,187.24 103.40,192.49 122.90,200.05" fill="none" stroke="#b8b8b8" stroke-width="0.5" stroke-linejoin="round" />
<polyline points="46.30,202.67 64.30,202.70 83.80,197.34 103.40,185.83 122.90,184.20" fill="none" stroke="#b8b8b8" stroke-width="0.5" stroke-linejoin="round" />
<polyline points="46.30,196.33 64.30,202.70 83.80,205.43 103.40,191.09 122.90,201.14" fill="none" stroke="#b8b8b8" stroke-width="0.5" stroke-linejoin="round" />
<polyline points="46.30,198.93 64.30,202.70 83.80,192.64 103.40,190.16 122.90,200.45" fill="none" stroke="#b8b8b8" stroke-width="0.5" stroke-linejoin="round" />
<polyline points="46.30,202.19 64.30,202.70 83.80,176.73 103.40,197.22 122.90,195.76" fill="none" stroke="#b8b8b8" stroke-width="0.5" stroke-linejoin="round" />
<polyline points="46.30,209.35 64.30,202.70 83.80,201.71 103.40,187.57 122.90,189.95" fill="none" stroke="#b8b8b8" stroke-width="0.5" stroke-linejoin="round" />
<polyline points="46.30,201.48 64.30,202.70 83.80,178.71 103.40,201.60 122.90,202.47" fill="none" stroke="#b8b8b8" stroke-width="0.5" stroke-linejoin="round" />
<polyline points="46.30,200.69 64.30,202.70 83.80,192.26 103.40,186.23 122.90,196.41" fill="none" stroke="#b8b8b8" stroke-width="0.5" stroke-linejoin="round" />
<polyline points="46.30,200.99 64.30,202.70 83.80,200.31 103.40,214.91 122.90,205.28" fill="none" stroke="#b8b8b8" stroke-width="0.5" stroke-linejoin="round" />
<polyline points="46.30,202.59 64.30,202.70 83.80,199.36 103.40,192.10 122.90,185.57" fill="none" stroke="#b8b8b8" stroke-width="0.5" stroke-linejoin="round" />
<polyline points="46.30,207.84 64.30,202.70 83.80,192.61 103.40,189.64 122.90,206.55" fill="none" stroke="#b8b8b8" stroke-width="0.5" stroke-linejoin="round" />
<polyline points="46.30,195.38 64.30,202.70 83.80,185.19 103.40,195.26 122.90,192.73" fill="none" stroke="#b8b8b8" stroke-width="0.5" stroke-linejoin="round" />
<polyline points="46.30,196.11 64.30,202.70 83.80,193.42 103.40,201.48 122.90,200.95" fill="none" stroke="#b8b8b8" stroke-width="0.5" stroke-linejoin="round" />
<polyline points="46.30,208.08 64.30,202.70 83.80,207.92 103.40,213.66 122.90,183.15" fill="none" stroke="#b8b8b8" stroke-width="0.5" stroke-linejoin="round" />
<polyline points="46.30,197.61 64.30,202.70 83.80,187.33 103.40,200.09 122.90,200.36" fill="none" stroke="#b8b8b8" stroke-width="0.5" stroke-linejoin="round" />
<polyline points="46.30,200.62 64.30,202.70 83.80,198.50 103.40,181.11 122.90,190.17" fill="none" stroke="#b8b8b8" stroke-width="0.5" stroke-linejoin="round" />
<polyline points="46.30,202.03 64.30,202.70 83.80,193.37 103.40,196.17 122.90,196.49" fill="none" stroke="#b8b8b8" stroke-width="0.5" stroke-linejoin="round" />
<polyline points="46.30,199.46 64.30,202.70 83.80,192.27 103.40,187.52 122.90,193.15" fill="none" stroke="#b8b8b8" stroke-width="0.5" stroke-linejoin="round" />
<polyline points="46.30,193.98 64.30,202.70 83.80,195.11 103.40,202.94 122.90,196.44" fill="none" stroke="#b8b8b8" stroke-width="0.5" stroke-linejoin="round" />
<polyline points="46.30,193.98 64.30,202.70 83.80,197.11 103.40,188.65 122.90,195.20" fill="none" stroke="#b8b8b8" stroke-width="0.5" stroke-linejoin="round" />
<polyline points="46.30,199.02 64.30,202.70 83.80,186.16 103.40,201.20 122.90,205.42" fill="none" stroke="#b8b8b8" stroke-width="0.5" stroke-linejoin="round" />
<polyline points="46.30,200.38 64.30,202.70 83.80,200.92 103.40,200.14 122.90,197.51" fill="none" stroke="#b8b8b8" stroke-width="0.5" stroke-linejoin="round" />
<polyline points="46.30,197.47 64.30,202.70 83.80,159.97 103.40,176.54 122.90,180.90" fill="none" stroke="#b8b8b8" stroke-width="0.5" stroke-linejoin="round" />
<polyline points="46.30,204.88 64.30,202.70 83.80,167.82 103.40,180.90 122.90,193.98" fill="none" stroke="#b8b8b8" stroke-width="0.5" stroke-linejoin="round" />
<polyline points="46.30,200.52 64.30,202.70 83.80,174.36 103.40,171.31 122.90,176.54" fill="none" stroke="#b8b8b8" stroke-width="0.5" stroke-linejoin="round" />
<polyline points="46.30,207.06 64.30,202.70 83.80,185.26 103.40,172.18 122.90,164.33" fill="none" stroke="#b8b8b8" stroke-width="0.5" stroke-linejoin="round" />
<polyline points="46.30,194.85 64.30,202.70 83.80,180.90 103.40,190.49 122.90,168.69" fill="none" stroke="#b8b8b8" stroke-width="0.5" stroke-linejoin="round" />
<polyline points="46.30,209.24 64.30,202.70 83.80,216.65 103.40,204.88 122.90,211.42" fill="none" stroke="#b8b8b8" stroke-width="0.5" stroke-linejoin="round" />
<polyline points="46.30,206.19 64.30,202.70 83.80,213.60 103.40,210.55 122.90,207.06" fill="none" stroke="#b8b8b8" stroke-width="0.5" stroke-linejoin="round" />
<polyline points="46.30,199.21 64.30,202.70 83.80,178.72 103.40,198.34 122.90,172.18" fill="none" stroke="#b8b8b8" stroke-width="0.5" stroke-linejoin="round" />
<polyline points="143.80,207.16 161.60,202.70 181.10,196.04 200.50,201.50 219.80,207.36" fill="none" stroke="#b8b8b8" stroke-width="0.5" stroke-linejoin="round" />
<polyline points="143.80,208.69 161.60,202.70 181.10,200.77 200.50,202.02 219.80,206.71" fill="none" stroke="#b8b8b8" stroke-width="0.5" stroke-linejoin="round" />
<polyline points="143.80,210.55 161.60,202.70 181.10,205.79 200.50,197.23 219.80,188.46" fill="none" stroke="#b8b8b8" stroke-width="0.5" stroke-linejoin="round" />
<polyline points="143.80,204.42 161.60,202.70 181.10,192.65 200.50,198.30 219.80,198.28" fill="none" stroke="#b8b8b8" stroke-width="0.5" stroke-linejoin="round" />
<polyline points="143.80,207.14 161.60,202.70 181.10,210.42 200.50,188.92 219.80,189.85" fill="none" stroke="#b8b8b8" stroke-width="0.5" stroke-linejoin="round" />
<polyline points="143.80,204.64 161.60,202.70 181.10,201.51 200.50,176.54 219.80,191.19" fill="none" stroke="#b8b8b8" stroke-width="0.5" stroke-linejoin="round" />
<polyline points="143.80,203.22 161.60,202.70 181.10,189.09 200.50,203.62 219.80,193.67" fill="none" stroke="#b8b8b8" stroke-width="0.5" stroke-linejoin="round" />
<polyline points="143.80,200.55 161.60,202.70 181.10,192.78 200.50,186.16 219.80,197.98" fill="none" stroke="#b8b8b8" stroke-width="0.5" stroke-linejoin="round" />
<polyline points="143.80,203.87 161.60,202.70 181.10,197.01 200.50,192.24 219.80,183.61" fill="none" stroke="#b8b8b8" stroke-width="0.5" stroke-linejoin="round" />
<polyline points="143.80,201.25 161.60,202.70 181.10,207.27 200.50,192.55 219.80,195.39" fill="none" stroke="#b8b8b8" stroke-width="0.5" stroke-linejoin="round" />
<polyline points="143.80,200.48 161.60,202.70 181.10,193.10 200.50,193.49 219.80,196.92" fill="none" stroke="#b8b8b8" stroke-width="0.5" stroke-linejoin="round" />
<polyline points="143.80,200.52 161.60,202.70 181.10,204.69 200.50,203.01 219.80,197.18" fill="none" stroke="#b8b8b8" stroke-width="0.5" stroke-linejoin="round" />
<polyline points="143.80,208.63 161.60,202.70 181.10,199.29 200.50,192.93 219.80,205.53" fill="none" stroke="#b8b8b8" stroke-width="0.5" stroke-linejoin="round" />
<polyline points="143.80,202.30 161.60,202.70 181.10,201.66 200.50,194.78 219.80,199.26" fill="none" stroke="#b8b8b8" stroke-width="0.5" stroke-linejoin="round" />
<polyline points="143.80,206.34 161.60,202.70 181.10,204.18 200.50,180.64 219.80,199.65" fill="none" stroke="#b8b8b8" stroke-width="0.5" stroke-linejoin="round" />
<polyline points="143.80,204.69 161.60,202.70 181.10,198.03 200.50,192.44 219.80,197.68" fill="none" stroke="#b8b8b8" stroke-width="0.5" stroke-linejoin="round" />
<polyline points="143.80,207.23 161.60,202.70 181.10,205.45 200.50,193.81 219.80,204.09" fill="none" stroke="#b8b8b8" stroke-width="0.5" stroke-linejoin="round" />
<polyline points="143.80,202.82 161.60,202.70 181.10,210.82 200.50,197.31 219.80,198.17" fill="none" stroke="#b8b8b8" stroke-width="0.5" stroke-linejoin="round" />
<polyline points="143.80,207.72 161.60,202.70 181.10,199.84 200.50,192.42 219.80,193.72" fill="none" stroke="#b8b8b8" stroke-width="0.5" stroke-linejoin="round" />
<polyline points="143.80,197.65 161.60,202.70 181.10,202.31 200.50,205.19 219.80,207.12" fill="none" stroke="#b8b8b8" stroke-width="0.5" stroke-linejoin="round" />
<polyline points="143.80,196.27 161.60,202.70 181.10,209.97 200.50,189.96 219.80,185.01" fill="none" stroke="#b8b8b8" stroke-width="0.5" stroke-linejoin="round" />
<polyline points="143.80,205.88 161.60,202.70 181.10,207.61 200.50,210.98 219.80,199.38" fill="none" stroke="#b8b8b8" stroke-width="0.5" stroke-linejoin="round" />
<polyline points="143.80,206.64 161.60,202.70 181.10,197.92 200.50,192.31 219.80,199.59" fill="none" stroke="#b8b8b8" stroke-width="0.5" stroke-linejoin="round" />
<polyline points="143.80,198.12 161.60,202.70 181.10,200.40 200.50,188.49 219.80,181.53" fill="none" stroke="#b8b8b8" stroke-width="0.5" stroke-linejoin="round" />
<polyline points="143.80,195.52 161.60,202.70 181.10,197.08 200.50,205.87 219.80,187.16" fill="none" stroke="#b8b8b8" stroke-width="0.5" stroke-linejoin="round" />
<polyline points="143.80,202.85 161.60,202.70 181.10,197.64 200.50,210.69 219.80,189.79" fill="none" stroke="#b8b8b8" stroke-width="0.5" stroke-linejoin="round" />
<polyline points="143.80,201.96 161.60,202.70 181.10,196.95 200.50,195.33 219.80,195.83" fill="none" stroke="#b8b8b8" stroke-width="0.5" stroke-linejoin="round" />
<polyline points="143.80,208.76 161.60,202.70 181.10,194.96 200.50,205.12 219.80,188.46" fill="none" stroke="#b8b8b8" stroke-width="0.5" stroke-linejoin="round" />
<polyline points="143.80,198.34 161.60,202.70 181.10,180.90 200.50,169.56 219.80,185.26" fill="none" stroke="#b8b8b8" stroke-width="0.5" stroke-linejoin="round" />
<polyline points="143.80,207.06 161.60,202.70 181.10,191.80 200.50,174.36 219.80,177.41" fill="none" stroke="#b8b8b8" stroke-width="0.5" stroke-linejoin="round" />
<polyline points="143.80,204.88 161.60,202.70 181.10,214.91 200.50,207.06 219.80,212.29" fill="none" stroke="#b8b8b8" stroke-width="0.5" stroke-linejoin="round" />
<polyline points="143.80,200.52 161.60,202.70 181.10,185.26 200.50,198.34 219.80,180.90" fill="none" stroke="#b8b8b8" stroke-width="0.5" stroke-linejoin="round" />
<polyline points="143.80,207.93 161.60,202.70 181.10,211.42 200.50,180.90 219.80,193.98" fill="none" stroke="#b8b8b8" stroke-width="0.5" stroke-linejoin="round" />
<line x1="35.6" y1="158.8" x2="35.6" y2="225" stroke="#333" stroke-width="0.9" />
<line x1="35.6" y1="224.6" x2="229.8" y2="224.6" stroke="#333" stroke-width="0.9" />
<line x1="132.5" y1="153" x2="132.5" y2="224.6" stroke="#8a8a8a" stroke-width="0.55" />
<line x1="32.6" y1="224.5" x2="35.6" y2="224.5" stroke="#333" stroke-width="0.8" />
<text x="30.8" y="226.2" font-size="5.0" font-weight="normal" text-anchor="end" fill="#333" stroke="#333" stroke-width="0.12" >50</text>
<line x1="32.6" y1="202.7" x2="35.6" y2="202.7" stroke="#333" stroke-width="0.8" />
<text x="30.8" y="204.39999999999998" font-size="5.0" font-weight="normal" text-anchor="end" fill="#333" stroke="#333" stroke-width="0.12" >100</text>
<line x1="32.6" y1="180.89999999999998" x2="35.6" y2="180.89999999999998" stroke="#333" stroke-width="0.8" />
<text x="30.8" y="182.59999999999997" font-size="5.0" font-weight="normal" text-anchor="end" fill="#333" stroke="#333" stroke-width="0.12" >150</text>
<line x1="32.6" y1="159.1" x2="35.6" y2="159.1" stroke="#333" stroke-width="0.8" />
<text x="30.8" y="160.79999999999998" font-size="5.0" font-weight="normal" text-anchor="end" fill="#333" stroke="#333" stroke-width="0.12" >200</text>
<text x="0" y="0" font-size="5.9" font-weight="normal" text-anchor="middle" fill="#333" stroke="#333" stroke-width="0.12" textLength="67.9" lengthAdjust="spacingAndGlyphs" transform="translate(16.2,189.7) rotate(-90)">MEP amplitude (% baseline)</text>
<line x1="44.8" y1="224.6" x2="44.8" y2="226.8" stroke="#333" stroke-width="0.8" />
<text x="44.8" y="234.0" font-size="6.2" font-weight="normal" text-anchor="middle" fill="#333" stroke="#333" stroke-width="0.12" textLength="4.2" lengthAdjust="spacingAndGlyphs" >-5</text>
<line x1="64.3" y1="224.6" x2="64.3" y2="226.8" stroke="#333" stroke-width="0.8" />
<text x="64.3" y="234.0" font-size="6.2" font-weight="normal" text-anchor="middle" fill="#333" stroke="#333" stroke-width="0.12" textLength="17.7" lengthAdjust="spacingAndGlyphs" >Baseline</text>
<line x1="83.8" y1="224.6" x2="83.8" y2="226.8" stroke="#333" stroke-width="0.8" />
<text x="83.8" y="234.0" font-size="6.2" font-weight="normal" text-anchor="middle" fill="#333" stroke="#333" stroke-width="0.12" textLength="2.8" lengthAdjust="spacingAndGlyphs" >5</text>
<line x1="103.4" y1="224.6" x2="103.4" y2="226.8" stroke="#333" stroke-width="0.8" />
<text x="103.4" y="234.0" font-size="6.2" font-weight="normal" text-anchor="middle" fill="#333" stroke="#333" stroke-width="0.12" textLength="5.6" lengthAdjust="spacingAndGlyphs" >10</text>
<line x1="122.9" y1="224.6" x2="122.9" y2="226.8" stroke="#333" stroke-width="0.8" />
<text x="122.9" y="234.0" font-size="6.2" font-weight="normal" text-anchor="middle" fill="#333" stroke="#333" stroke-width="0.12" textLength="5.6" lengthAdjust="spacingAndGlyphs" >30</text>
<line x1="142.3" y1="224.6" x2="142.3" y2="226.8" stroke="#333" stroke-width="0.8" />
<text x="142.3" y="234.0" font-size="6.2" font-weight="normal" text-anchor="middle" fill="#333" stroke="#333" stroke-width="0.12" textLength="4.2" lengthAdjust="spacingAndGlyphs" >-5</text>
<line x1="161.6" y1="224.6" x2="161.6" y2="226.8" stroke="#333" stroke-width="0.8" />
<text x="161.6" y="234.0" font-size="6.2" font-weight="normal" text-anchor="middle" fill="#333" stroke="#333" stroke-width="0.12" textLength="17.7" lengthAdjust="spacingAndGlyphs" >Baseline</text>
<line x1="181.1" y1="224.6" x2="181.1" y2="226.8" stroke="#333" stroke-width="0.8" />
<text x="181.1" y="234.0" font-size="6.2" font-weight="normal" text-anchor="middle" fill="#333" stroke="#333" stroke-width="0.12" textLength="2.8" lengthAdjust="spacingAndGlyphs" >5</text>
<line x1="200.5" y1="224.6" x2="200.5" y2="226.8" stroke="#333" stroke-width="0.8" />
<text x="200.5" y="234.0" font-size="6.2" font-weight="normal" text-anchor="middle" fill="#333" stroke="#333" stroke-width="0.12" textLength="5.6" lengthAdjust="spacingAndGlyphs" >10</text>
<line x1="219.8" y1="224.6" x2="219.8" y2="226.8" stroke="#333" stroke-width="0.8" />
<text x="219.8" y="234.0" font-size="6.2" font-weight="normal" text-anchor="middle" fill="#333" stroke="#333" stroke-width="0.12" textLength="5.6" lengthAdjust="spacingAndGlyphs" >30</text>
<text x="84.2" y="155.8" font-size="6.5" font-weight="bold" text-anchor="middle" fill="#111" stroke="#111" stroke-width="0.28" textLength="10.2" lengthAdjust="spacingAndGlyphs" >YG</text>
<text x="180.6" y="155.8" font-size="6.4" font-weight="bold" text-anchor="middle" fill="#111" stroke="#111" stroke-width="0.2" textLength="9.6" lengthAdjust="spacingAndGlyphs" >OG</text>
<polyline points="47.00,201.60 66.10,203.10 84.90,193.90 104.10,192.60 123.30,195.40" fill="none" stroke="#c8323a" stroke-width="0.9" stroke-linejoin="round" />
<line x1="47" y1="199.5" x2="47" y2="204" stroke="#c8323a" stroke-width="0.5" />
<line x1="46" y1="199.5" x2="48" y2="199.5" stroke="#c8323a" stroke-width="0.5" />
<line x1="46" y1="204" x2="48" y2="204" stroke="#c8323a" stroke-width="0.5" />
<circle cx="47" cy="201.6" r="1.3" fill="#c8323a" stroke="none" stroke-width="0" />
<circle cx="66.1" cy="203.1" r="1.3" fill="#c8323a" stroke="none" stroke-width="0" />
<line x1="84.9" y1="189" x2="84.9" y2="199" stroke="#c8323a" stroke-width="0.5" />
<line x1="83.9" y1="189" x2="85.9" y2="189" stroke="#c8323a" stroke-width="0.5" />
<line x1="83.9" y1="199" x2="85.9" y2="199" stroke="#c8323a" stroke-width="0.5" />
<circle cx="84.9" cy="193.9" r="1.3" fill="#c8323a" stroke="none" stroke-width="0" />
<line x1="104.1" y1="188" x2="104.1" y2="197.5" stroke="#c8323a" stroke-width="0.5" />
<line x1="103.1" y1="188" x2="105.1" y2="188" stroke="#c8323a" stroke-width="0.5" />
<line x1="103.1" y1="197.5" x2="105.1" y2="197.5" stroke="#c8323a" stroke-width="0.5" />
<circle cx="104.1" cy="192.6" r="1.3" fill="#c8323a" stroke="none" stroke-width="0" />
<line x1="123.3" y1="190" x2="123.3" y2="200.5" stroke="#c8323a" stroke-width="0.5" />
<line x1="122.3" y1="190" x2="124.3" y2="190" stroke="#c8323a" stroke-width="0.5" />
<line x1="122.3" y1="200.5" x2="124.3" y2="200.5" stroke="#c8323a" stroke-width="0.5" />
<circle cx="123.3" cy="195.4" r="1.3" fill="#c8323a" stroke="none" stroke-width="0" />
<polyline points="142.20,204.50 161.30,202.80 180.00,199.10 199.20,195.40 218.40,199.30" fill="none" stroke="#1f3a9a" stroke-width="0.9" stroke-linejoin="round" />
<line x1="142.2" y1="203" x2="142.2" y2="206" stroke="#1f3a9a" stroke-width="0.5" />
<line x1="141.2" y1="203" x2="143.2" y2="203" stroke="#1f3a9a" stroke-width="0.5" />
<line x1="141.2" y1="206" x2="143.2" y2="206" stroke="#1f3a9a" stroke-width="0.5" />
<circle cx="142.2" cy="204.5" r="1.3" fill="#1f3a9a" stroke="none" stroke-width="0" />
<circle cx="161.3" cy="202.8" r="1.3" fill="#1f3a9a" stroke="none" stroke-width="0" />
<line x1="180" y1="196.5" x2="180" y2="201.5" stroke="#1f3a9a" stroke-width="0.5" />
<line x1="179" y1="196.5" x2="181" y2="196.5" stroke="#1f3a9a" stroke-width="0.5" />
<line x1="179" y1="201.5" x2="181" y2="201.5" stroke="#1f3a9a" stroke-width="0.5" />
<circle cx="180" cy="199.1" r="1.3" fill="#1f3a9a" stroke="none" stroke-width="0" />
<line x1="199.2" y1="192.5" x2="199.2" y2="198.5" stroke="#1f3a9a" stroke-width="0.5" />
<line x1="198.2" y1="192.5" x2="200.2" y2="192.5" stroke="#1f3a9a" stroke-width="0.5" />
<line x1="198.2" y1="198.5" x2="200.2" y2="198.5" stroke="#1f3a9a" stroke-width="0.5" />
<circle cx="199.2" cy="195.4" r="1.3" fill="#1f3a9a" stroke="none" stroke-width="0" />
<line x1="218.4" y1="196.5" x2="218.4" y2="202" stroke="#1f3a9a" stroke-width="0.5" />
<line x1="217.4" y1="196.5" x2="219.4" y2="196.5" stroke="#1f3a9a" stroke-width="0.5" />
<line x1="217.4" y1="202" x2="219.4" y2="202" stroke="#1f3a9a" stroke-width="0.5" />
<circle cx="218.4" cy="199.3" r="1.3" fill="#1f3a9a" stroke="none" stroke-width="0" />
<text x="84.7" y="186.6" font-size="4.8" font-weight="bold" text-anchor="middle" fill="#222" stroke="#222" stroke-width="0.2" >**</text>
<text x="104.1" y="185.5" font-size="4.8" font-weight="bold" text-anchor="middle" fill="#222" stroke="#222" stroke-width="0.2" >***</text>
<text x="123.2" y="188.5" font-size="4.8" font-weight="bold" text-anchor="middle" fill="#222" stroke="#222" stroke-width="0.2" >**</text>
<text x="179.7" y="194.5" font-size="4.8" font-weight="bold" text-anchor="middle" fill="#222" stroke="#222" stroke-width="0.2" >**</text>
<text x="199" y="190.6" font-size="4.8" font-weight="bold" text-anchor="middle" fill="#222" stroke="#222" stroke-width="0.2" >***</text>
<text x="218.5" y="194.1" font-size="4.8" font-weight="bold" text-anchor="middle" fill="#222" stroke="#222" stroke-width="0.2" >*</text>
<text x="220.5" y="122.6" font-size="8.3" font-weight="bold" text-anchor="start" fill="#111" stroke="#111" stroke-width="0.28" >G</text>
<text x="260.7" y="121.9" font-size="7.2" font-weight="bold" text-anchor="start" fill="#111" stroke="#111" stroke-width="0.28" textLength="122.5" lengthAdjust="spacingAndGlyphs" >LTP-like plasticity in subgroup analysis</text>
<line x1="268.2" y1="148.5" x2="268.2" y2="226" stroke="#222" stroke-width="0.9" />
<line x1="268.2" y1="225.5" x2="384.5" y2="225.5" stroke="#222" stroke-width="0.9" />
<line x1="265.6" y1="225.34" x2="268.2" y2="225.34" stroke="#222" stroke-width="0.8" />
<text x="264.6" y="227.24" font-size="5.6" font-weight="normal" text-anchor="end" fill="#333" stroke="#333" stroke-width="0.06" >80</text>
<line x1="265.6" y1="212.57000000000002" x2="268.2" y2="212.57000000000002" stroke="#222" stroke-width="0.8" />
<text x="264.6" y="214.47000000000003" font-size="5.6" font-weight="normal" text-anchor="end" fill="#333" stroke="#333" stroke-width="0.06" >90</text>
<line x1="265.6" y1="199.8" x2="268.2" y2="199.8" stroke="#222" stroke-width="0.8" />
<text x="264.6" y="201.70000000000002" font-size="5.6" font-weight="normal" text-anchor="end" fill="#333" stroke="#333" stroke-width="0.06" >100</text>
<line x1="265.6" y1="187.03" x2="268.2" y2="187.03" stroke="#222" stroke-width="0.8" />
<text x="264.6" y="188.93" font-size="5.6" font-weight="normal" text-anchor="end" fill="#333" stroke="#333" stroke-width="0.06" >110</text>
<line x1="265.6" y1="174.26000000000002" x2="268.2" y2="174.26000000000002" stroke="#222" stroke-width="0.8" />
<text x="264.6" y="176.16000000000003" font-size="5.6" font-weight="normal" text-anchor="end" fill="#333" stroke="#333" stroke-width="0.06" >120</text>
<line x1="265.6" y1="161.49" x2="268.2" y2="161.49" stroke="#222" stroke-width="0.8" />
<text x="264.6" y="163.39000000000001" font-size="5.6" font-weight="normal" text-anchor="end" fill="#333" stroke="#333" stroke-width="0.06" >130</text>
<line x1="265.6" y1="148.72000000000003" x2="268.2" y2="148.72000000000003" stroke="#222" stroke-width="0.8" />
<text x="264.6" y="150.62000000000003" font-size="5.6" font-weight="normal" text-anchor="end" fill="#333" stroke="#333" stroke-width="0.06" >140</text>
<text x="0" y="0" font-size="6.6" font-weight="normal" text-anchor="middle" fill="#333" stroke="#333" stroke-width="0.08" textLength="72.4" lengthAdjust="spacingAndGlyphs" transform="translate(255.6,180.3) rotate(-90)">MEP amplitude (% baseline)</text>
<line x1="280.4" y1="225.5" x2="280.4" y2="227.8" stroke="#222" stroke-width="0.8" />
<line x1="298.8" y1="225.5" x2="298.8" y2="227.8" stroke="#222" stroke-width="0.8" />
<line x1="317.1" y1="225.5" x2="317.1" y2="227.8" stroke="#222" stroke-width="0.8" />
<line x1="335.4" y1="225.5" x2="335.4" y2="227.8" stroke="#222" stroke-width="0.8" />
<line x1="353.9" y1="225.5" x2="353.9" y2="227.8" stroke="#222" stroke-width="0.8" />
<line x1="372.3" y1="225.5" x2="372.3" y2="227.8" stroke="#222" stroke-width="0.8" />
<text x="280.4" y="234.1" font-size="5.6" font-weight="normal" text-anchor="middle" fill="#333" stroke="#333" stroke-width="0.1" textLength="4" lengthAdjust="spacingAndGlyphs" >-5</text>
<text x="298.7" y="234.1" font-size="5.6" font-weight="normal" text-anchor="middle" fill="#333" stroke="#333" stroke-width="0.1" textLength="16.5" lengthAdjust="spacingAndGlyphs" >Baseline</text>
<text x="317.1" y="234.1" font-size="5.6" font-weight="normal" text-anchor="middle" fill="#333" stroke="#333" stroke-width="0.1" textLength="2.6" lengthAdjust="spacingAndGlyphs" >5</text>
<text x="335.4" y="234.1" font-size="5.6" font-weight="normal" text-anchor="middle" fill="#333" stroke="#333" stroke-width="0.1" textLength="5.2" lengthAdjust="spacingAndGlyphs" >10</text>
<text x="372.3" y="234.1" font-size="5.6" font-weight="normal" text-anchor="middle" fill="#333" stroke="#333" stroke-width="0.1" textLength="5.2" lengthAdjust="spacingAndGlyphs" >30</text>
<line x1="280.4" y1="199" x2="280.4" y2="205" stroke="#7a7a7a" stroke-width="0.5" />
<line x1="279.4" y1="199" x2="281.4" y2="199" stroke="#7a7a7a" stroke-width="0.5" />
<line x1="279.4" y1="205" x2="281.4" y2="205" stroke="#7a7a7a" stroke-width="0.5" />
<line x1="317.1" y1="176" x2="317.1" y2="198" stroke="#7a7a7a" stroke-width="0.5" />
<line x1="316.1" y1="176" x2="318.1" y2="176" stroke="#7a7a7a" stroke-width="0.5" />
<line x1="316.1" y1="198" x2="318.1" y2="198" stroke="#7a7a7a" stroke-width="0.5" />
<line x1="335.4" y1="168" x2="335.4" y2="185" stroke="#7a7a7a" stroke-width="0.5" />
<line x1="334.4" y1="168" x2="336.4" y2="168" stroke="#7a7a7a" stroke-width="0.5" />
<line x1="334.4" y1="185" x2="336.4" y2="185" stroke="#7a7a7a" stroke-width="0.5" />
<line x1="372.3" y1="181" x2="372.3" y2="198" stroke="#7a7a7a" stroke-width="0.5" />
<line x1="371.3" y1="181" x2="373.3" y2="181" stroke="#7a7a7a" stroke-width="0.5" />
<line x1="371.3" y1="198" x2="373.3" y2="198" stroke="#7a7a7a" stroke-width="0.5" />
<line x1="280.4" y1="202" x2="280.4" y2="210.5" stroke="#2a3d9e" stroke-width="0.5" />
<line x1="279.4" y1="202" x2="281.4" y2="202" stroke="#2a3d9e" stroke-width="0.5" />
<line x1="279.4" y1="210.5" x2="281.4" y2="210.5" stroke="#2a3d9e" stroke-width="0.5" />
<line x1="317.1" y1="183" x2="317.1" y2="198.7" stroke="#2a3d9e" stroke-width="0.5" />
<line x1="316.1" y1="183" x2="318.1" y2="183" stroke="#2a3d9e" stroke-width="0.5" />
<line x1="316.1" y1="198.7" x2="318.1" y2="198.7" stroke="#2a3d9e" stroke-width="0.5" />
<line x1="335.4" y1="166" x2="335.4" y2="191" stroke="#2a3d9e" stroke-width="0.5" />
<line x1="334.4" y1="166" x2="336.4" y2="166" stroke="#2a3d9e" stroke-width="0.5" />
<line x1="334.4" y1="191" x2="336.4" y2="191" stroke="#2a3d9e" stroke-width="0.5" />
<line x1="372.3" y1="180" x2="372.3" y2="201.3" stroke="#2a3d9e" stroke-width="0.5" />
<line x1="371.3" y1="180" x2="373.3" y2="180" stroke="#2a3d9e" stroke-width="0.5" />
<line x1="371.3" y1="201.3" x2="373.3" y2="201.3" stroke="#2a3d9e" stroke-width="0.5" />
<line x1="280.4" y1="190.5" x2="280.4" y2="201.5" stroke="#c0303a" stroke-width="0.5" />
<line x1="279.4" y1="190.5" x2="281.4" y2="190.5" stroke="#c0303a" stroke-width="0.5" />
<line x1="279.4" y1="201.5" x2="281.4" y2="201.5" stroke="#c0303a" stroke-width="0.5" />
<line x1="317.1" y1="159.5" x2="317.1" y2="188" stroke="#c0303a" stroke-width="0.5" />
<line x1="316.1" y1="159.5" x2="318.1" y2="159.5" stroke="#c0303a" stroke-width="0.5" />
<line x1="316.1" y1="188" x2="318.1" y2="188" stroke="#c0303a" stroke-width="0.5" />
<line x1="335.4" y1="156.4" x2="335.4" y2="182" stroke="#c0303a" stroke-width="0.5" />
<line x1="334.4" y1="156.4" x2="336.4" y2="156.4" stroke="#c0303a" stroke-width="0.5" />
<line x1="334.4" y1="182" x2="336.4" y2="182" stroke="#c0303a" stroke-width="0.5" />
<line x1="372.3" y1="164.6" x2="372.3" y2="191" stroke="#c0303a" stroke-width="0.5" />
<line x1="371.3" y1="164.6" x2="373.3" y2="164.6" stroke="#c0303a" stroke-width="0.5" />
<line x1="371.3" y1="191" x2="373.3" y2="191" stroke="#c0303a" stroke-width="0.5" />
<polyline points="280.40,202.10 298.80,199.40 317.10,187.60 335.40,176.50 372.30,189.60" fill="none" stroke="#7a7a7a" stroke-width="0.9" stroke-linejoin="round" />
<circle cx="280.4" cy="202.1" r="1.0" fill="#7a7a7a" stroke="none" stroke-width="0" />
<circle cx="298.8" cy="199.4" r="1.0" fill="#7a7a7a" stroke="none" stroke-width="0" />
<circle cx="317.1" cy="187.6" r="1.0" fill="#7a7a7a" stroke="none" stroke-width="0" />
<circle cx="335.4" cy="176.5" r="1.0" fill="#7a7a7a" stroke="none" stroke-width="0" />
<circle cx="372.3" cy="189.6" r="1.0" fill="#7a7a7a" stroke="none" stroke-width="0" />
<polyline points="280.40,205.90 298.80,199.40 317.10,191.00 335.40,178.70 372.30,190.50" fill="none" stroke="#2a3d9e" stroke-width="0.9" stroke-linejoin="round" />
<circle cx="280.4" cy="205.9" r="1.0" fill="#2a3d9e" stroke="none" stroke-width="0" />
<circle cx="298.8" cy="199.4" r="1.0" fill="#2a3d9e" stroke="none" stroke-width="0" />
<circle cx="317.1" cy="191.0" r="1.0" fill="#2a3d9e" stroke="none" stroke-width="0" />
<circle cx="335.4" cy="178.7" r="1.0" fill="#2a3d9e" stroke="none" stroke-width="0" />
<circle cx="372.3" cy="190.5" r="1.0" fill="#2a3d9e" stroke="none" stroke-width="0" />
<polyline points="280.40,196.20 298.80,199.40 317.10,173.80 335.40,169.20 372.30,177.70" fill="none" stroke="#c0303a" stroke-width="0.9" stroke-linejoin="round" />
<circle cx="280.4" cy="196.2" r="1.0" fill="#c0303a" stroke="none" stroke-width="0" />
<circle cx="298.8" cy="199.4" r="1.0" fill="#c0303a" stroke="none" stroke-width="0" />
<circle cx="317.1" cy="173.8" r="1.0" fill="#c0303a" stroke="none" stroke-width="0" />
<circle cx="335.4" cy="169.2" r="1.0" fill="#c0303a" stroke="none" stroke-width="0" />
<circle cx="372.3" cy="177.7" r="1.0" fill="#c0303a" stroke="none" stroke-width="0" />
<line x1="382.7" y1="146.9" x2="391.2" y2="146.9" stroke="#c0303a" stroke-width="0.9" />
<circle cx="387" cy="146.9" r="0.9" fill="#c0303a" stroke="none" stroke-width="0" />
<text x="395.8" y="148.6" font-size="5.0" font-weight="normal" text-anchor="start" fill="#333" stroke="#333" stroke-width="0.08" textLength="7.7" lengthAdjust="spacingAndGlyphs" >YG</text>
<line x1="382.7" y1="157.5" x2="391.2" y2="157.5" stroke="#2a3d9e" stroke-width="0.9" />
<circle cx="387" cy="157.5" r="0.9" fill="#2a3d9e" stroke="none" stroke-width="0" />
<text x="395.8" y="159.2" font-size="5.0" font-weight="normal" text-anchor="start" fill="#333" stroke="#333" stroke-width="0.08" textLength="10" lengthAdjust="spacingAndGlyphs" >OG-I</text>
<line x1="382.7" y1="168.3" x2="391.2" y2="168.3" stroke="#7a7a7a" stroke-width="0.9" />
<circle cx="387" cy="168.3" r="0.9" fill="#7a7a7a" stroke="none" stroke-width="0" />
<text x="395.8" y="170.0" font-size="5.0" font-weight="normal" text-anchor="start" fill="#333" stroke="#333" stroke-width="0.08" textLength="12.2" lengthAdjust="spacingAndGlyphs" >OG-II</text>
</svg>
</body></html>
